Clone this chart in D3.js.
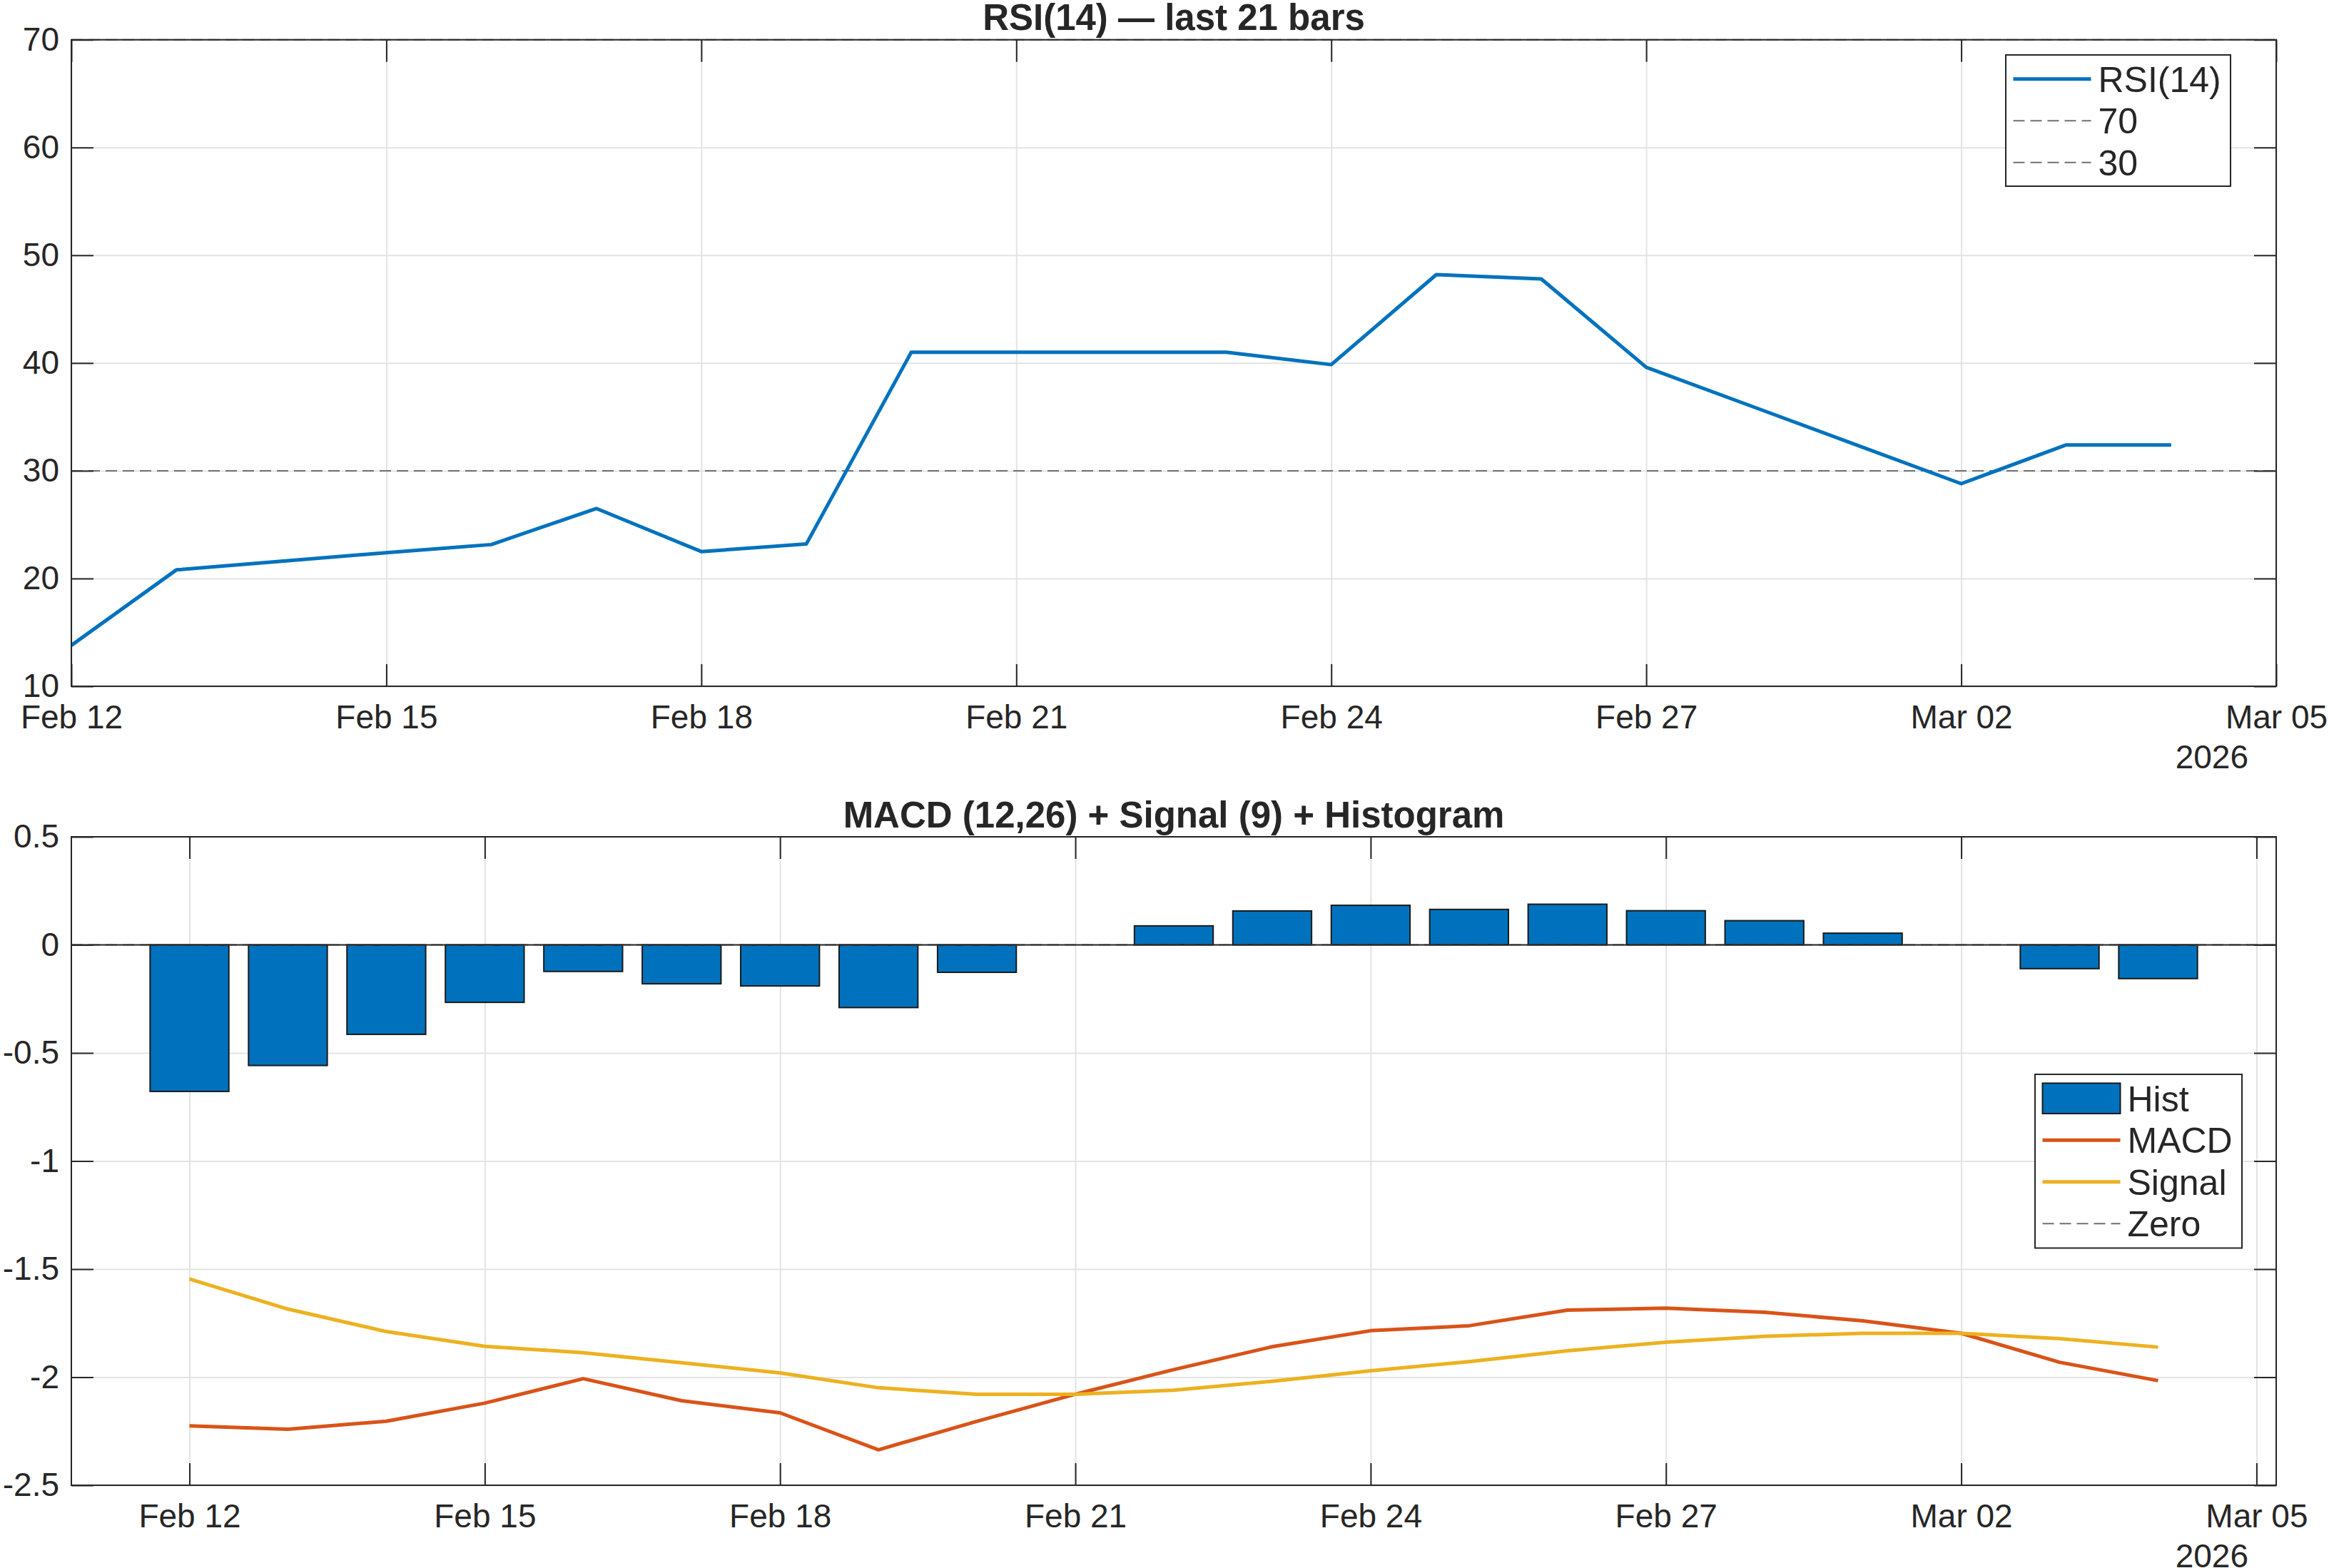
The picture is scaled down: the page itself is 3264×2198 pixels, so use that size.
<!DOCTYPE html>
<html>
<head>
<meta charset="utf-8">
<script src="https://d3js.org/d3.v7.min.js"></script>
<style>
  body { margin: 0; background: #fff; }
  svg text { font-family: "Liberation Sans", Arial, Helvetica, sans-serif; fill: #262626; }
</style>
</head>
<body>
<div id="vis"></div>
<script>
// Data ---------------------------------------------------------------------
var dates = ["2026-02-12", "2026-02-13", "2026-02-14", "2026-02-15", "2026-02-16",
    "2026-02-17", "2026-02-18", "2026-02-19", "2026-02-20", "2026-02-21", "2026-02-22",
    "2026-02-23", "2026-02-24", "2026-02-25", "2026-02-26", "2026-02-27", "2026-02-28",
    "2026-03-01", "2026-03-02", "2026-03-03", "2026-03-04"];
var rsiValues = [13.8, 20.8, 21.6, 22.4, 23.15, 26.5, 22.5, 23.2, 41.0, 41.0, 41.0,
    41.0, 39.85, 48.2, 47.8, 39.6, 36.0, 32.4, 28.8, 32.4, 32.4];
var macdValues = [-2.225, -2.241, -2.204, -2.12, -2.007, -2.109, -2.165, -2.336, -2.204,
    -2.079, -1.965, -1.859, -1.785, -1.762, -1.69, -1.681, -1.70, -1.739, -1.797, -1.931, -2.016];
var signalValues = [-1.546, -1.685, -1.789, -1.857, -1.887, -1.933, -1.98, -2.049, -2.079,
    -2.079, -2.06, -2.019, -1.97, -1.928, -1.878, -1.838, -1.811, -1.797, -1.797, -1.822, -1.861];
var histValues = [-0.678, -0.558, -0.414, -0.266, -0.123, -0.18, -0.19, -0.29, -0.127,
    0, 0.088, 0.157, 0.183, 0.164, 0.188, 0.158, 0.112, 0.054, 0, -0.11, -0.156];

var xTickDates = ["2026-02-12", "2026-02-15", "2026-02-18", "2026-02-21", "2026-02-24",
    "2026-02-27", "2026-03-02", "2026-03-05"];
var rsiTicks = [10, 20, 30, 40, 50, 60, 70];
var macdTicks = [-2.5, -2, -1.5, -1, -0.5, 0, 0.5];
var rsiLevels = [70, 30];
var yearLabel = "2026";
var rsiTitle = "RSI(14) \u2014 last 21 bars";
var macdTitle = "MACD (12,26) + Signal (9) + Histogram";

// Layout -------------------------------------------------------------------
var W = 3264, H = 2198;
var left = 100, right = 3190;
var top1 = 55.7, bottom1 = 962;
var top2 = 1173, bottom2 = 2082;
var tickLen = 31;
var lineW = 5;
var DAY = 24 * 3600 * 1000;

var colors = {
    rsi: "#0072BD",
    macd: "#D95319",
    signal: "#EDB120",
    hist: "#0072BD",
    ref: "#707070",
    axis: "#262626",
    grid: "#e3e3e3"
};

var parseDate = d3.utcParse("%Y-%m-%d");
var formatTick = d3.utcFormat("%b %d");
// plain hyphen minus, like the reference
var formatNum = function(d) { return String(d); };

var rows = dates.map(function(d, i) {
    return {
        date: parseDate(d),
        rsi: rsiValues[i],
        macd: macdValues[i],
        signal: signalValues[i],
        hist: histValues[i]
    };
});
var tickDates = xTickDates.map(parseDate);
var firstTick = tickDates[0], lastTick = tickDates[tickDates.length - 1];

var svg = d3.select("#vis").append("svg")
    .attr("width", W)
    .attr("height", H)
    .style("display", "block");
svg.append("rect").attr("width", W).attr("height", H).attr("fill", "#fff");

// Scales -------------------------------------------------------------------
var x1 = d3.scaleUtc().domain([firstTick, lastTick]).range([left, right]);
var y1 = d3.scaleLinear().domain([10, 70]).range([bottom1, top1]);

var x2 = d3.scaleUtc()
    .domain([new Date(+firstTick - 1.2 * DAY), new Date(+lastTick + 0.2 * DAY)])
    .range([left, right]);
var y2 = d3.scaleLinear().domain([-2.5, 0.5]).range([bottom2, top2]);

// Frame helpers --------------------------------------------------------------
function drawGrid(g, x, y, yTicks, yTop, yBot) {
    g.append("g")
        .attr("transform", "translate(0," + yBot + ")")
        .call(d3.axisBottom(x).tickValues(tickDates).tickSize(-(yBot - yTop)).tickFormat(""))
        .call(function(s) { s.select(".domain").remove(); })
        .selectAll("line").attr("stroke", colors.grid).attr("stroke-width", 2);
    g.append("g")
        .attr("transform", "translate(" + left + ",0)")
        .call(d3.axisLeft(y).tickValues(yTicks).tickSize(-(right - left)).tickFormat(""))
        .call(function(s) { s.select(".domain").remove(); })
        .selectAll("line").attr("stroke", colors.grid).attr("stroke-width", 2);
}

function styleAxis(s) {
    s.select(".domain").remove();
    s.attr("font-size", 46).attr("font-family", null);
    s.selectAll("line").attr("stroke", colors.axis).attr("stroke-width", 2);
    s.selectAll("text").attr("fill", colors.axis);
}

function drawAxes(g, x, y, yTicks, yTop, yBot) {
    g.append("g")
        .attr("transform", "translate(0," + yBot + ")")
        .call(d3.axisBottom(x).tickValues(tickDates).tickSizeInner(-tickLen)
            .tickSizeOuter(0).tickPadding(26.5).tickFormat(formatTick))
        .call(styleAxis);
    g.append("g")
        .attr("transform", "translate(0," + yTop + ")")
        .call(d3.axisTop(x).tickValues(tickDates).tickSizeInner(-tickLen)
            .tickSizeOuter(0).tickFormat(""))
        .call(styleAxis);
    g.append("g")
        .attr("transform", "translate(" + left + ",0)")
        .call(d3.axisLeft(y).tickValues(yTicks).tickSizeInner(-tickLen)
            .tickSizeOuter(0).tickPadding(17).tickFormat(formatNum))
        .call(styleAxis);
    g.append("g")
        .attr("transform", "translate(" + right + ",0)")
        .call(d3.axisRight(y).tickValues(yTicks).tickSizeInner(-tickLen)
            .tickSizeOuter(0).tickFormat(""))
        .call(styleAxis);

    g.append("rect")
        .attr("x", left).attr("y", yTop)
        .attr("width", right - left).attr("height", yBot - yTop)
        .attr("fill", "none").attr("stroke", colors.axis).attr("stroke-width", 2);

    // year under the last tick
    g.append("text")
        .attr("x", 3151)
        .attr("y", yBot + 115)
        .attr("text-anchor", "end")
        .attr("font-size", 46)
        .text(yearLabel);
}

function drawTitle(text, yBase) {
    svg.append("text")
        .attr("x", (left + right) / 2)
        .attr("y", yBase)
        .attr("text-anchor", "middle")
        .attr("font-size", 51)
        .attr("font-weight", "bold")
        .text(text);
}

function drawLegend(x0, y0, w, h, items) {
    var g = svg.append("g");
    g.append("rect")
        .attr("x", x0).attr("y", y0).attr("width", w).attr("height", h)
        .attr("fill", "#fff").attr("stroke", colors.axis).attr("stroke-width", 2);
    items.forEach(function(it, i) {
        var cy = y0 + 33.7 + i * 58.5;
        var sx0 = x0 + 10.5, sx1 = x0 + 119.5;
        if (it.type === "patch") {
            g.append("rect")
                .attr("x", sx0).attr("y", cy - 21.3)
                .attr("width", sx1 - sx0).attr("height", 42.6)
                .attr("fill", it.color).attr("stroke", "#1a1a1a").attr("stroke-width", 2);
        } else {
            g.append("line")
                .attr("x1", sx0).attr("x2", sx1).attr("y1", cy).attr("y2", cy)
                .attr("stroke", it.color)
                .attr("stroke-width", it.type === "dash" ? 2 : lineW)
                .attr("stroke-dasharray", it.type === "dash" ? "16,8" : null);
        }
        g.append("text")
            .attr("x", x0 + 129.5)
            .attr("y", cy + 18)
            .attr("font-size", 50)
            .text(it.label);
    });
}

// RSI panel ----------------------------------------------------------------
var p1 = svg.append("g");
drawGrid(p1.append("g"), x1, y1, rsiTicks, top1, bottom1);

p1.selectAll(".level")
    .data(rsiLevels)
    .enter().append("line")
    .attr("class", "level")
    .attr("x1", left).attr("x2", right)
    .attr("y1", function(d) { return y1(d); })
    .attr("y2", function(d) { return y1(d); })
    .attr("stroke", colors.ref)
    .attr("stroke-width", 2)
    .attr("stroke-dasharray", "16,8");

p1.append("path")
    .datum(rows)
    .attr("fill", "none")
    .attr("stroke", colors.rsi)
    .attr("stroke-width", lineW)
    .attr("stroke-linejoin", "round")
    .attr("d", d3.line()
        .x(function(d) { return x1(d.date); })
        .y(function(d) { return y1(d.rsi); }));

drawAxes(p1.append("g"), x1, y1, rsiTicks, top1, bottom1);
drawTitle(rsiTitle, 42);
drawLegend(2811, 77, 315, 184, [
    { type: "line", color: colors.rsi, label: "RSI(14)" },
    { type: "dash", color: colors.ref, label: String(rsiLevels[0]) },
    { type: "dash", color: colors.ref, label: String(rsiLevels[1]) }
]);

// MACD panel ---------------------------------------------------------------
var p2 = svg.append("g");
drawGrid(p2.append("g"), x2, y2, macdTicks, top2, bottom2);

p2.selectAll(".bar")
    .data(rows)
    .enter().append("rect")
    .attr("class", "bar")
    .attr("x", function(d) { return x2(new Date(+d.date - 0.4 * DAY)); })
    .attr("width", function(d) {
        return x2(new Date(+d.date + 0.4 * DAY)) - x2(new Date(+d.date - 0.4 * DAY));
    })
    .attr("y", function(d) { return y2(Math.max(0, d.hist)); })
    .attr("height", function(d) { return Math.abs(y2(d.hist) - y2(0)); })
    .attr("fill", colors.hist)
    .attr("stroke", "#1a1a1a")
    .attr("stroke-width", 2)
    .attr("display", function(d) { return d.hist === 0 ? "none" : null; });

// zero reference + bar baseline
p2.append("line")
    .attr("x1", left).attr("x2", right)
    .attr("y1", y2(0)).attr("y2", y2(0))
    .attr("stroke", colors.ref).attr("stroke-width", 2).attr("stroke-dasharray", "16,8");
p2.append("line")
    .attr("x1", left).attr("x2", right)
    .attr("y1", y2(0)).attr("y2", y2(0))
    .attr("stroke", colors.axis).attr("stroke-width", 2);

p2.append("path")
    .datum(rows)
    .attr("fill", "none")
    .attr("stroke", colors.macd)
    .attr("stroke-width", lineW)
    .attr("stroke-linejoin", "round")
    .attr("d", d3.line()
        .x(function(d) { return x2(d.date); })
        .y(function(d) { return y2(d.macd); }));

p2.append("path")
    .datum(rows)
    .attr("fill", "none")
    .attr("stroke", colors.signal)
    .attr("stroke-width", lineW)
    .attr("stroke-linejoin", "round")
    .attr("d", d3.line()
        .x(function(d) { return x2(d.date); })
        .y(function(d) { return y2(d.signal); }));

drawAxes(p2.append("g"), x2, y2, macdTicks, top2, bottom2);
drawTitle(macdTitle, 1159.6);
drawLegend(2852, 1506, 290, 243.5, [
    { type: "patch", color: colors.hist, label: "Hist" },
    { type: "line", color: colors.macd, label: "MACD" },
    { type: "line", color: colors.signal, label: "Signal" },
    { type: "dash", color: colors.ref, label: "Zero" }
]);
</script>
</body>
</html>
